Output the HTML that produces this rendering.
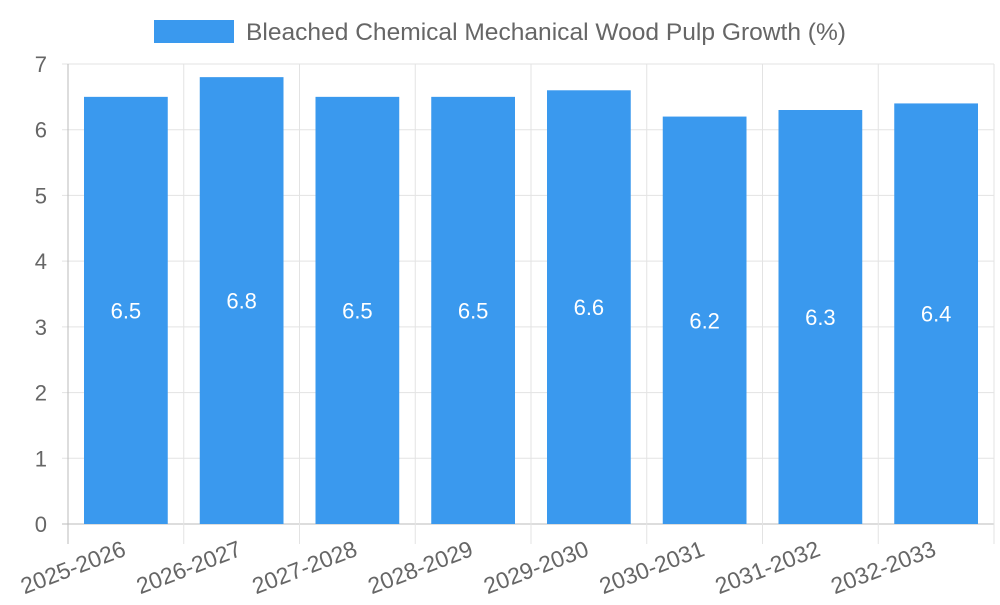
<!DOCTYPE html>
<html><head><meta charset="utf-8"><style>
body{margin:0;background:#fff;font-family:"Liberation Sans",sans-serif}
svg text{font-family:"Liberation Sans",sans-serif}
</style></head><body>
<svg id="chart" width="1000" height="600">
<g id="grid"></g>
<g id="bars"></g>
<g id="axes"></g>
<g>
<rect x="154" y="20" width="80" height="23" fill="#3a99ee"></rect>
<text x="246" y="40" font-size="24" textLength="600" lengthAdjust="spacingAndGlyphs" fill="#666">Bleached Chemical Mechanical Wood Pulp Growth (%)</text>
</g>
</svg>
<script>
const categories=["2025-2026","2026-2027","2027-2028","2028-2029","2029-2030","2030-2031","2031-2032","2032-2033"];
const values=[6.5,6.8,6.5,6.5,6.6,6.2,6.3,6.4];
const yTicks=[0,1,2,3,4,5,6,7];
const NS="http://www.w3.org/2000/svg";
const L=68,R=994,T=64,B=524,YMAX=7;
const y=v=>B-(v/YMAX)*(B-T);
const bw=(R-L)/categories.length;
const x=i=>L+i*bw;
function mk(p,t,a){const e=document.createElementNS(NS,t);for(const k in a)e.setAttribute(k,a[k]);p.appendChild(e);return e;}
const grid=document.getElementById('grid'),bars=document.getElementById('bars'),axes=document.getElementById('axes');
yTicks.forEach(v=>{
 const g=mk(grid,'line',{x1:L-6,x2:R,y1:y(v),y2:y(v),stroke:v===0?'#bbb':'#e3e3e3','stroke-width':1});
 
 
 const t=mk(axes,'text',{x:47,y:y(v)+8,'font-size':22,fill:'#666','text-anchor':'end'});
 t.textContent=v;
 
 
});
for(let i=0;i<=categories.length;i++){
 const g=mk(grid,'line',{x1:x(i),x2:x(i),y1:T,y2:B+20,stroke:i===0?'#bbb':'#e3e3e3','stroke-width':1});
 
 
}
categories.forEach((c,i)=>{
 const v=values[i];
 const r=mk(bars,'rect',{x:x(i)+16,y:y(v),width:bw-32,height:B-y(v),fill:'#3a99ee'});
 
 
 const t=mk(bars,'text',{x:x(i)+bw/2,y:(y(v)+B)/2+8,'font-size':22,fill:'#fff','text-anchor':'middle'});
 t.textContent=v;
 
 
 const cx=x(i)+bw/2-4,cy=B+17;
 const l=mk(axes,'text',{x:cx,y:cy+15,'font-size':23,fill:'#666','text-anchor':'end',transform:`rotate(-21 ${cx} ${cy})`});
 l.textContent=c;
 
 
});
</script>
</body></html>
